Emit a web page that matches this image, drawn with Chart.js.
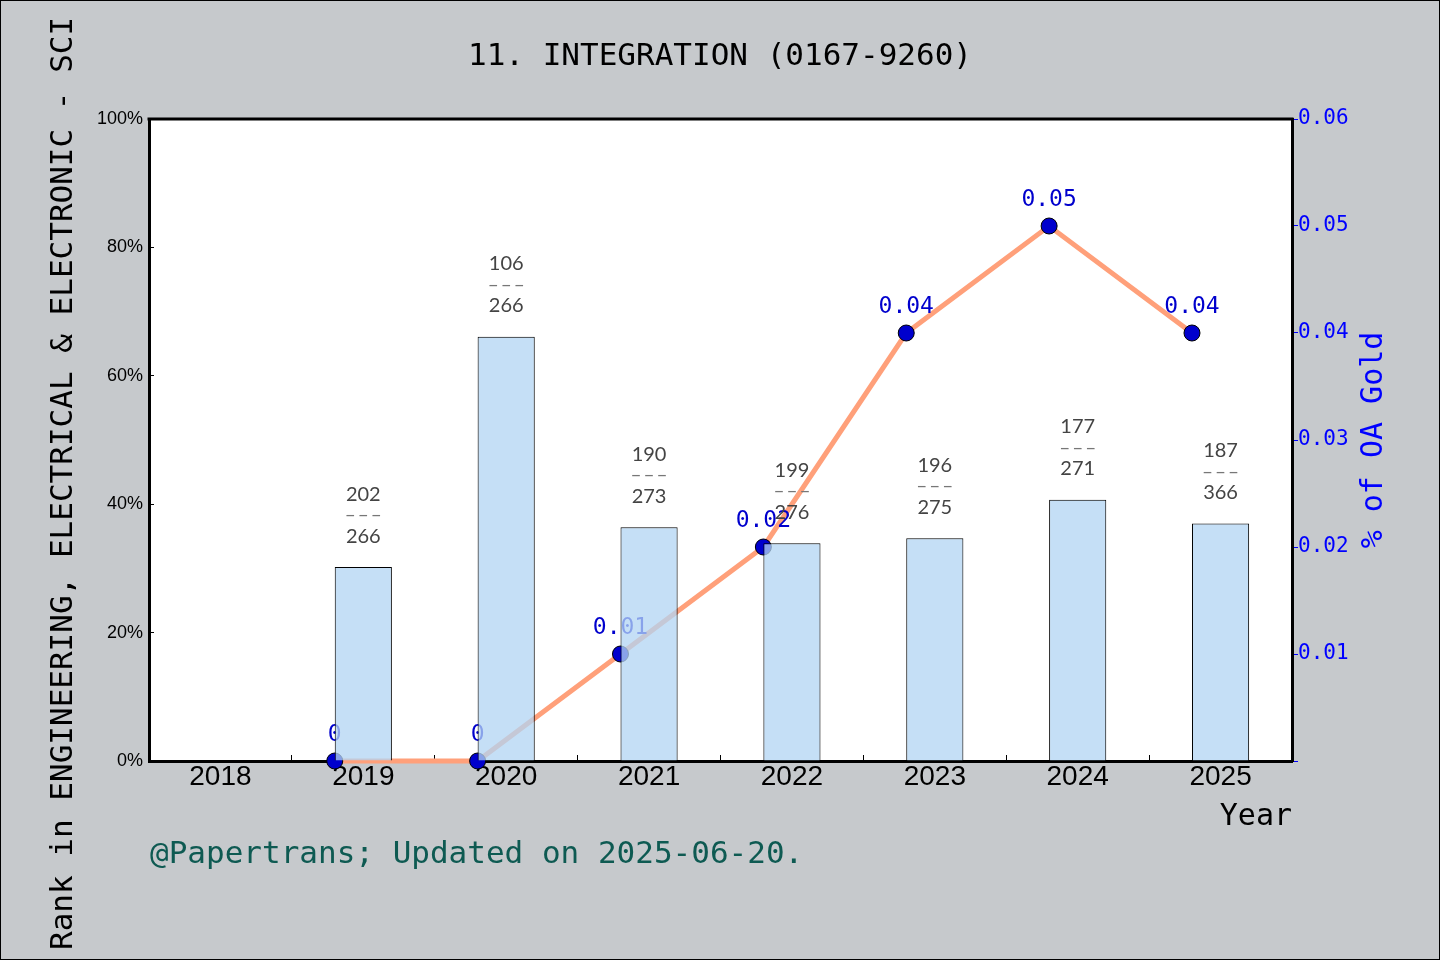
<!DOCTYPE html>
<html>
<head>
<meta charset="utf-8">
<title>11. INTEGRATION (0167-9260)</title>
<script src="https://cdn.jsdelivr.net/npm/chart.js@4.4.1/dist/chart.umd.min.js"></script>
<style>
  html, body { margin: 0; padding: 0; background: #c6c9cc; }
  canvas { display: block; }
</style>
</head>
<body>
<canvas id="bar-chart-oa" width="1440" height="960"></canvas>
<script>
// data
var years = ['2018', '2019', '2020', '2021', '2022', '2023', '2024', '2025'];
var rankPercent = [null, 30.2, 66.1, 36.4, 33.9, 34.7, 40.7, 37.0];
var rankNo = [null, '202', '106', '190', '199', '196', '177', '187'];
var rankTotal = [null, '266', '266', '273', '276', '275', '271', '366'];
var oaGold = [null, 0, 0, 0.01, 0.02, 0.04, 0.05, 0.04];
var percentTicks = [0, 20, 40, 60, 80, 100];
var goldTicks = [0, 0.01, 0.02, 0.03, 0.04, 0.05, 0.06];

var chartTitle = '11. INTEGRATION (0167-9260)';
var leftTitle = 'Rank in ENGINEERING, ELECTRICAL & ELECTRONIC - SCI';
var rightTitle = '% of OA Gold';
var footNote = '@Papertrans; Updated on 2025-06-20.';

/* colours */
var pageGray = '#c6c9cc';
var barFill = 'rgba(179,213,243,0.76)';
var lineSalmon = '#ffa07a';
var dotBlue = '#0000cd';
var axisBlue = '#0000ff';
var footTeal = '#0e5a52';
var mono = '"DejaVu Sans Mono", monospace';

// line points sit on the left edge of each bar
var lineShift = -0.2;

var linePoints = oaGold.map(function(v, i) {
	return { x: i + lineShift, y: v };
});

function goldText(v) {
	return v === 0 ? '0' : v.toFixed(2);
}

var decorations = {
	id: 'decorations',
	beforeDraw: function(chart) {
		var ctx = chart.ctx, a = chart.chartArea;
		ctx.save();
		ctx.fillStyle = pageGray;
		ctx.fillRect(0, 0, chart.width, chart.height);
		ctx.fillStyle = '#fff';
		ctx.fillRect(a.left, a.top, a.right - a.left, a.bottom - a.top);
		ctx.restore();
	},
	afterDatasetDraw: function(chart, args) {
		// values of the line, drawn under the bars
		if (args.meta.type !== 'line') return;
		var ctx = chart.ctx;
		ctx.save();
		ctx.font = '23px ' + mono;
		ctx.fillStyle = dotBlue;
		ctx.textAlign = 'center';
		ctx.textBaseline = 'middle';
		args.meta.data.forEach(function(el, i) {
			if (oaGold[i] === null) return;
			ctx.fillText(goldText(oaGold[i]), el.x, el.y - 26);
		});
		ctx.restore();
	},
	afterDatasetsDraw: function(chart) {
		var ctx = chart.ctx, a = chart.chartArea;
		var bars = chart.getDatasetMeta(0).data;
		ctx.save();
		ctx.textAlign = 'center';
		ctx.textBaseline = 'middle';
		bars.forEach(function(el, i) {
			if (rankPercent[i] === null) return;
			ctx.font = '20px Lato, "Open Sans", sans-serif';
			ctx.fillStyle = '#444';
			ctx.fillText(rankNo[i], el.x, el.y - 73);
			ctx.fillText(rankTotal[i], el.x, el.y - 31);
			ctx.font = '19px Lato, sans-serif';
			ctx.fillStyle = '#777';
			ctx.letterSpacing = '2px';
			ctx.fillText('\u2013\u2013\u2013', el.x + 1, el.y - 52);
			ctx.letterSpacing = '0px';
		});
		// top edge of the plot frame
		ctx.strokeStyle = '#000';
		ctx.lineWidth = 3;
		ctx.beginPath();
		ctx.moveTo(a.left - 1.5, a.top);
		ctx.lineTo(a.right + 1.5, a.top);
		ctx.stroke();
		ctx.restore();
	},
	afterDraw: function(chart) {
		var ctx = chart.ctx, a = chart.chartArea;
		ctx.save();
		ctx.textBaseline = 'middle';

		ctx.save();
		ctx.translate(64, 950);
		ctx.rotate(-Math.PI / 2);
		ctx.font = '31px ' + mono;
		ctx.fillStyle = '#000';
		ctx.textAlign = 'left';
		ctx.fillText(leftTitle, 0, 0);
		ctx.restore();

		ctx.save();
		ctx.translate(1374, (a.top + a.bottom) / 2);
		ctx.rotate(-Math.PI / 2);
		ctx.font = '30px ' + mono;
		ctx.fillStyle = axisBlue;
		ctx.textAlign = 'center';
		ctx.fillText(rightTitle, 0, 0);
		ctx.restore();

		ctx.font = '31px ' + mono;
		ctx.fillStyle = footTeal;
		ctx.textAlign = 'left';
		ctx.fillText(footNote, 150, 855);

		ctx.strokeStyle = '#000';
		ctx.lineWidth = 1;
		ctx.strokeRect(0.5, 0.5, chart.width - 1, chart.height - 1);
		ctx.restore();
	}
};

var oaChart = new Chart(document.getElementById('bar-chart-oa'), {
	type: 'bar',
	data: {
		labels: years,
		datasets: [{
			type: 'bar',
			label: 'Rank',
			data: rankPercent,
			backgroundColor: barFill,
			borderColor: '#000',
			borderWidth: 1,
			grouped: false,
			barPercentage: 0.4,
			categoryPercentage: 1,
			xAxisID: 'x',
			yAxisID: 'y',
			order: 1
		}, {
			type: 'line',
			label: rightTitle,
			data: linePoints,
			borderColor: lineSalmon,
			borderWidth: 5,
			tension: 0,
			pointRadius: 8,
			pointHoverRadius: 8,
			pointBackgroundColor: dotBlue,
			pointBorderColor: '#000',
			pointBorderWidth: 1,
			clip: false,
			xAxisID: 'xl',
			yAxisID: 'y2',
			order: 2
		}]
	},
	options: {
		responsive: false,
		animation: false,
		layout: { padding: 0 },
		plugins: {
			legend: { display: false },
			tooltip: { enabled: false },
			title: {
				display: true,
				text: chartTitle,
				color: '#000',
				font: { family: mono, size: 31, weight: 'normal', lineHeight: 1 },
				padding: { top: 41, bottom: 47 }
			}
		},
		scales: {
			x: {
				type: 'category',
				offset: true,
				afterFit: function(scale) { scale.height = 199; },
				grid: { offset: true, drawOnChartArea: false, tickLength: -6, color: '#000', lineWidth: 1 },
				border: { display: true, color: '#000', width: 3 },
				ticks: {
					color: '#000',
					padding: 5,
					maxRotation: 0,
					font: { family: '"Liberation Sans", Arial, sans-serif', size: 28 }
				},
				title: {
					display: true,
					text: 'Year',
					align: 'end',
					color: '#000',
					font: { family: mono, size: 30 },
					padding: { top: 0, bottom: 125 }
				}
			},
			xl: {
				type: 'linear',
				display: false,
				offset: false,
				grid: { offset: false },
				min: -0.5,
				max: years.length - 0.5
			},
			y: {
				position: 'left',
				min: percentTicks[0],
				max: percentTicks[percentTicks.length - 1],
				afterFit: function(scale) { scale.width = 149; },
				afterBuildTicks: function(scale) {
					scale.ticks = percentTicks.map(function(v) { return { value: v }; });
				},
				grid: { drawOnChartArea: false, tickLength: -5, color: '#000', lineWidth: 1 },
				border: { display: true, color: '#000', width: 3 },
				ticks: {
					color: '#000',
					padding: 11,
					font: { family: '"Liberation Sans Narrow", "Liberation Sans", sans-serif', size: 18 },
					callback: function(v) { return v + '%'; }
				}
			},
			y2: {
				position: 'right',
				min: goldTicks[0],
				max: goldTicks[goldTicks.length - 1],
				afterFit: function(scale) { scale.width = 148; },
				afterBuildTicks: function(scale) {
					scale.ticks = goldTicks.map(function(v) { return { value: v }; });
				},
				grid: { drawOnChartArea: false, tickLength: 6, color: axisBlue, lineWidth: 1 },
				border: { display: true, color: '#000', width: 3 },
				ticks: {
					color: axisBlue,
					padding: 0,
					font: { family: mono, size: 21 },
					callback: function(v) { return v === 0 ? '' : v.toFixed(2); }
				}
			}
		}
	},
	plugins: [decorations]
});
</script>
</body>
</html>
